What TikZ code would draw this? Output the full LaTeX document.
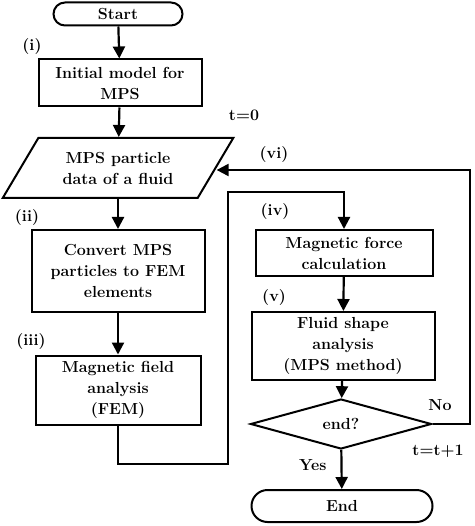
\documentclass[tikz,border=0pt]{standalone}
\usetikzlibrary{shapes.geometric,shapes.misc,arrows.meta}
\begin{document}
\begin{tikzpicture}[x=1pt,y=-1pt]
    \tikzstyle{every node} = [font=\bfseries\fontsize{16}{21}\selectfont]
    \tikzstyle{term} = [draw,rounded rectangle,line width=2pt,inner sep=0pt]
    \tikzstyle{proc} = [draw,rectangle,line width=2pt,align=center,inner sep=0pt]
    \tikzstyle{tag} = [inner sep=0pt]
    \tikzstyle{flow} = [line width=2.2pt,-{Triangle[width=12pt,length=12pt]}]
    \useasboundingbox (0,0) rectangle (474,526);

    \node[term,minimum width=129pt,minimum height=23pt] (start) at (118,14){Start};
    \node[proc,minimum width=163pt,minimum height=47pt] (init) at (120,83){Initial model for\\MPS};
    \node[draw,trapezium,trapezium left angle=52.5,trapezium right angle=127.5,
          trapezium stretches=true,line width=2pt,align=center,inner sep=0pt,
          minimum width=231pt,minimum height=60pt] (data) at (118,168){MPS particle\\data of a fluid};
    \node[proc,minimum width=173pt,minimum height=82pt] (conv) at (118,271){Convert MPS\\particles to FEM\\elements};
    \node[proc,minimum width=165pt,minimum height=69pt] (field) at (118,390){Magnetic field\\analysis\\(FEM)};

    \node[proc,minimum width=177pt,minimum height=46pt] (force) at (344,253){Magnetic force\\calculation};
    \node[proc,minimum width=183pt,minimum height=68pt] (fluid) at (343,346){Fluid shape\\analysis\\(MPS method)};
    \node[draw,diamond,line width=2pt,inner sep=0pt,aspect=3.6,
          minimum width=181pt,minimum height=50pt] (check) at (341,424){end?};
    \node[term,minimum width=181pt,minimum height=32pt] (finish) at (342,506){End};

    \node[tag] (li) at (32,47){(i)};
    \node[tag] (lii) at (27,218){(ii)};
    \node[tag] (liii) at (31,342){(iii)};
    \node[tag] (liv) at (275,212){(iv)};
    \node[tag] (lv) at (274,298){(v)};
    \node[tag] (lvi) at (274,155){(vi)};
    \node[tag] (tzero) at (244,115){t=0};
    \node[tag] (tnext) at (438,451){t=t+1};

    \coordinate (c1) at (118,464);
    \coordinate (c2) at (228,192);
    \coordinate (c3) at (470,170);

    \draw[flow] (start) -- (init);
    \draw[flow] (init) -- (data);
    \draw[flow] (data) -- (conv);
    \draw[flow] (conv) -- (field);
    \draw[flow] (field.south) -- (c1) -| (c2) -| (force.north);
    \draw[flow] (force) -- (fluid);
    \draw[flow] (fluid) -- (check);
    \draw[flow] (check) -- node[tag,pos=0.4,left=14pt] {Yes} (finish);
    \draw[flow] (check.east) -| node[tag,pos=0.1,above=12pt] {No} (c3) -- (c3 -| data.east);

\end{tikzpicture}
\end{document}
